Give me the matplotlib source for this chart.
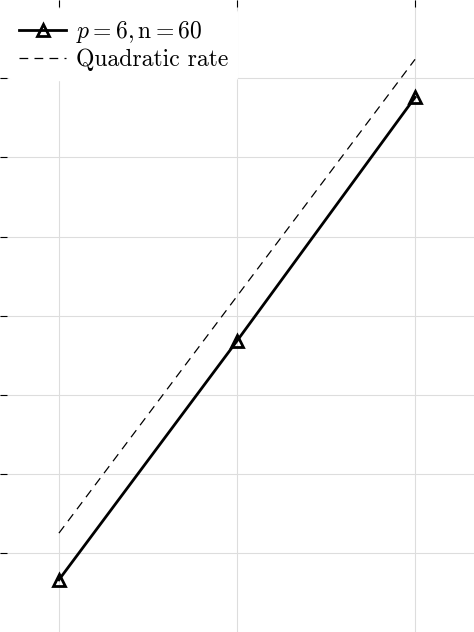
import matplotlib
matplotlib.use("Agg")
import matplotlib.pyplot as plt

plt.rcParams['mathtext.fontset'] = 'cm'
plt.rcParams['font.family'] = ['cmr10', 'DejaVu Serif']
plt.rcParams['axes.unicode_minus'] = False

x = [1, 2, 3]
y_solid = [-0.34, 2.68, 5.76]
x_rate = [1, 3]
y_rate = [0.25, 6.24]
xticks = [1, 2, 3]
yticks = [0, 1, 2, 3, 4, 5, 6]

fig = plt.figure(figsize=(4.74, 6.32), dpi=100)
ax = fig.add_axes([0, 0, 1, 1])
ax.plot(x, y_solid, '-', color='black', lw=2, marker='^', ms=9,
        mfc='none', mec='black', mew=2, label=r'$p=6,\mathrm{n}=60$')
ax.plot(x_rate, y_rate, '--', color='black', lw=0.9, dashes=(7, 5), label='Quadratic rate')
ax.set_xlim(0.669, 3.331)
ax.set_ylim(-1.0, 6.99)
ax.set_xticks(xticks)
ax.set_yticks(yticks)
ax.grid(True, color='#dddddd', lw=0.8)
ax.tick_params(direction='in', top=True, right=False, bottom=False, length=5,
               labelleft=False, labelbottom=False)
for s in ax.spines.values():
    s.set_visible(False)
leg = ax.legend(loc='upper left', fontsize=17, frameon=True, framealpha=1,
                edgecolor='white', handlelength=2, borderaxespad=0.4,
                handletextpad=0.4, labelspacing=0.15)
fig.savefig('out.png', dpi=100)
